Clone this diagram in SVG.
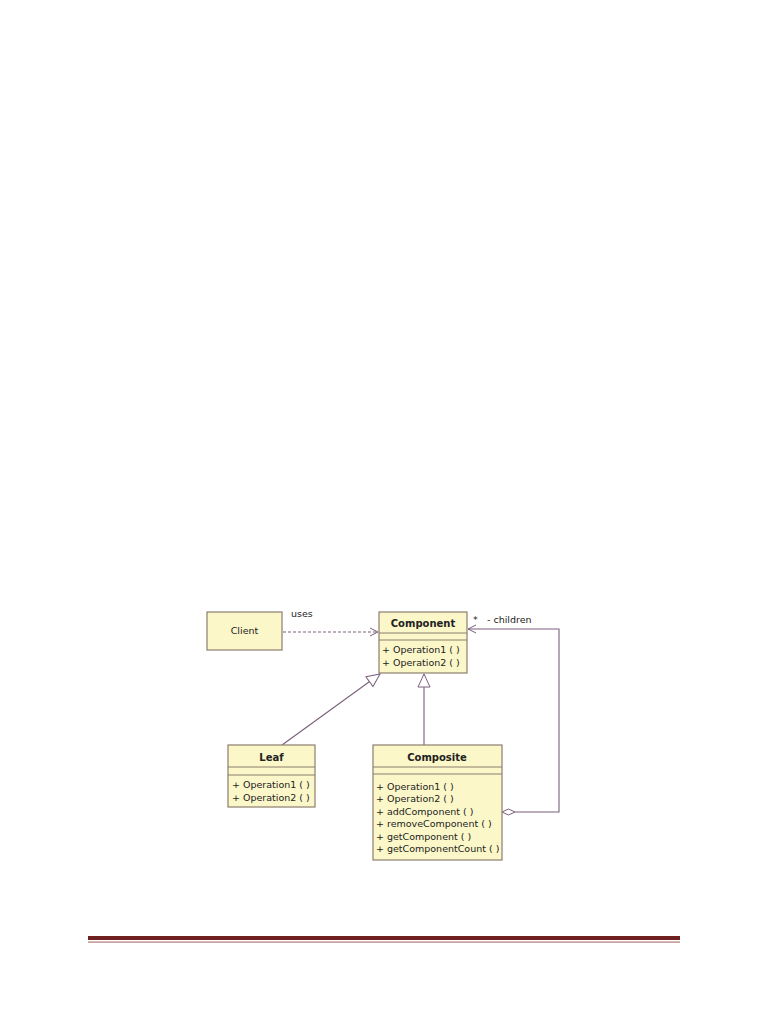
<svg xmlns="http://www.w3.org/2000/svg" width="768" height="1024" viewBox="0 0 768 1024">
<style>
.box{fill:#fbf7c9;stroke:#8c7d6e;stroke-width:1.2}
.sep{stroke:#8c7d6e;stroke-width:1}
.t{font-family:"DejaVu Sans","Liberation Sans",sans-serif;font-size:9.5px;fill:#222}
.b{font-family:"DejaVu Sans","Liberation Sans",sans-serif;font-size:10px;font-weight:bold;fill:#222}
.ln{stroke:#7a5f7a;stroke-width:1.1;fill:none}
</style>
<defs>
<marker id="open" markerWidth="10" markerHeight="10" refX="9" refY="5" orient="auto" markerUnits="userSpaceOnUse">
<path d="M1,1 L9,5 L1,9" fill="none" stroke="#7a5f7a" stroke-width="1"/>
</marker>
<marker id="tri" markerWidth="16" markerHeight="16" refX="14" refY="7" orient="auto" markerUnits="userSpaceOnUse">
<path d="M1,1 L14,7 L1,13 Z" fill="#fff" stroke="#7a5f7a" stroke-width="1"/>
</marker>
<marker id="dia" markerWidth="16" markerHeight="10" refX="1" refY="5" orient="auto" markerUnits="userSpaceOnUse">
<path d="M1,5 L7,1.5 L13,5 L7,8.5 Z" fill="#fff" stroke="#7a5f7a" stroke-width="1"/>
</marker>
</defs>
<rect width="768" height="1024" fill="#fff"/>
<g id="connectors">
<line class="ln" x1="283" y1="632" x2="378" y2="632" stroke-dasharray="3,2" marker-end="url(#open)"/>
<text class="t" x="291" y="617">uses</text>
<line class="ln" x1="282" y1="745" x2="380" y2="674" marker-end="url(#tri)"/>
<line class="ln" x1="424" y1="745" x2="424" y2="674" marker-end="url(#tri)"/>
<path class="ln" d="M515,812 L559,812 L559,629 L468,629" marker-end="url(#open)"/>
<path d="M502,812 L508.5,809 L515,812 L508.5,815 Z" fill="#fff" stroke="#7a5f7a" stroke-width="1"/>
<text class="t" x="473" y="623">*</text>
<text class="t" x="487" y="623">- children</text>
</g>
<g id="client">
<rect class="box" x="207" y="612" width="75" height="38"/>
<text class="t" x="244.5" y="634" text-anchor="middle" font-size="10">Client</text>
</g>
<g id="component">
<rect class="box" x="379" y="612" width="88" height="61"/>
<line class="sep" x1="379" y1="633" x2="467" y2="633"/>
<line class="sep" x1="379" y1="640" x2="467" y2="640"/>
<text class="b" x="423" y="627" text-anchor="middle">Component</text>
<text class="t" x="382" y="653">+ Operation1 ( )</text>
<text class="t" x="382" y="666">+ Operation2 ( )</text>
</g>
<g id="leaf">
<rect class="box" x="228" y="745" width="87" height="62"/>
<line class="sep" x1="228" y1="767" x2="315" y2="767"/>
<line class="sep" x1="228" y1="775" x2="315" y2="775"/>
<text class="b" x="271.5" y="761" text-anchor="middle">Leaf</text>
<text class="t" x="232" y="788">+ Operation1 ( )</text>
<text class="t" x="232" y="801">+ Operation2 ( )</text>
</g>
<g id="composite">
<rect class="box" x="373" y="745" width="129" height="115"/>
<line class="sep" x1="373" y1="767" x2="502" y2="767"/>
<line class="sep" x1="373" y1="774" x2="502" y2="774"/>
<text class="b" x="437" y="761" text-anchor="middle">Composite</text>
<text class="t" x="376" y="790">+ Operation1 ( )</text>
<text class="t" x="376" y="802">+ Operation2 ( )</text>
<text class="t" x="376" y="815">+ addComponent ( )</text>
<text class="t" x="376" y="827">+ removeComponent ( )</text>
<text class="t" x="376" y="840">+ getComponent ( )</text>
<text class="t" x="376" y="852">+ getComponentCount ( )</text>
</g>
<g id="footer">
<rect x="88" y="936" width="592" height="4" fill="#6e1f1f"/>
<rect x="88" y="941.5" width="592" height="1.2" fill="#b07a7a"/>
</g>
</svg>
